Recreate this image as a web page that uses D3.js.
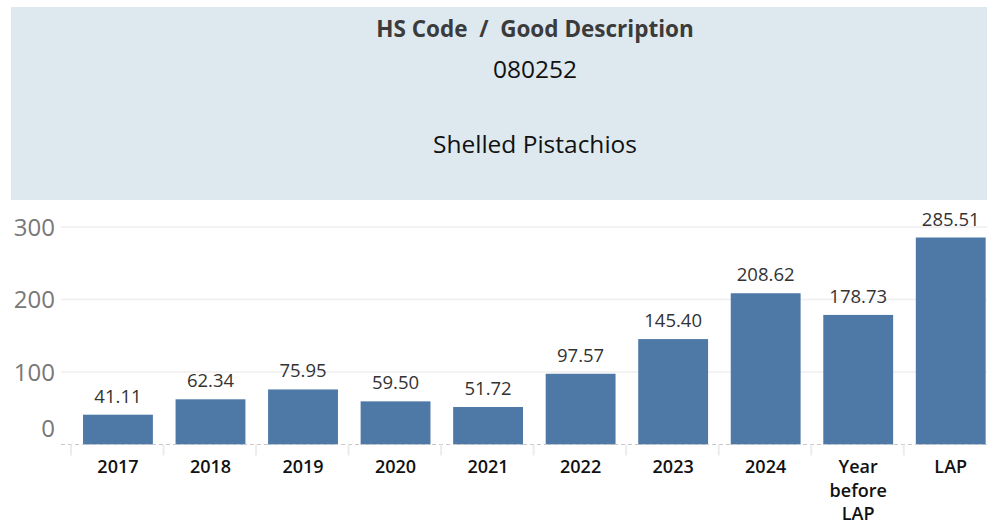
<!DOCTYPE html>
<html>
<head>
<meta charset="utf-8">
<script src="https://cdn.jsdelivr.net/npm/d3@7"></script>
<style>
  body { margin: 0; background: #fff; }
  svg { display: block; }
</style>
</head>
<body>
<div id="chart"></div>
<script>
const categories = ['2017', '2018', '2019', '2020', '2021', '2022', '2023', '2024', 'Year before LAP', 'LAP'];
const values = [41.11, 62.34, 75.95, 59.50, 51.72, 97.57, 145.40, 208.62, 178.73, 285.51];
const yTicks = [0, 100, 200, 300];
const headerTitle = 'HS Code  /  Good Description';
const hsCode = '080252';
const goodDescription = 'Shelled Pistachios';

const W = 987, H = 522;
const svg = d3.select('#chart').append('svg')
  .attr('width', W)
  .attr('height', H);

// header panel
svg.append('rect')
  .attr('x', 11).attr('y', 7)
  .attr('width', W - 11).attr('height', 193)
  .attr('fill', '#dde9ef');

const cx = 535;
svg.append('text')
  .attr('x', cx).attr('y', 37)
  .attr('text-anchor', 'middle')
  .style('font-family', '"Open Sans", sans-serif')
  .style('font-weight', 'bold')
  .style('font-size', '22.5px')
  .style('fill', '#3b3b3b')
  .style('white-space', 'pre')
  .text(headerTitle);

svg.append('text')
  .attr('x', cx).attr('y', 78)
  .attr('text-anchor', 'middle')
  .style('font-family', '"Open Sans", sans-serif')
  .style('font-size', '24.5px')
  .style('fill', '#111')
  .text(hsCode);

svg.append('text')
  .attr('x', cx).attr('y', 153)
  .attr('text-anchor', 'middle')
  .style('font-family', '"Open Sans", sans-serif')
  .style('font-size', '24.5px')
  .style('fill', '#111')
  .text(goodDescription);

// scales
const step = 92.67;
const x = d3.scaleBand()
  .domain(categories)
  .range([71, 71 + step * categories.length])
  .paddingInner(0.245)
  .paddingOuter(0.13);

const y = d3.scaleLinear()
  .domain([0, 300])
  .range([444.5, 227]);

// gridlines
svg.append('g')
  .selectAll('line')
  .data(yTicks.filter(d => d > 0))
  .enter()
  .append('line')
    .attr('x1', 61).attr('x2', W)
    .attr('y1', d => y(d)).attr('y2', d => y(d))
    .attr('stroke', '#efefef')
    .attr('stroke-width', 1.5);

// y axis labels
const yAxis = d3.axisLeft(y).tickValues(yTicks).tickSize(0).tickPadding(0);
const yg = svg.append('g')
  .attr('transform', 'translate(55,0)')
  .call(yAxis);
yg.select('.domain').remove();
yg.selectAll('text')
  .style('font-family', '"Open Sans", sans-serif')
  .style('font-size', '24px')
  .style('fill', '#787878')
  .attr('dy', d => d === 0 ? '-0.32em' : '0.35em');

// bars
svg.selectAll('rect.bar')
  .data(values)
  .enter()
  .append('rect')
    .attr('class', 'bar')
    .attr('x', (d, i) => x(categories[i]))
    .attr('y', d => y(d))
    .attr('width', x.bandwidth())
    .attr('height', d => y(0) - y(d))
    .attr('fill', '#4e79a7');

// value labels
svg.selectAll('text.val')
  .data(values)
  .enter()
  .append('text')
    .attr('class', 'val')
    .attr('x', (d, i) => x(categories[i]) + x.bandwidth() / 2)
    .attr('y', d => y(d) - 12)
    .attr('text-anchor', 'middle')
    .style('font-family', '"Open Sans", sans-serif')
    .style('font-size', '18.5px')
    .style('fill', '#333')
    .text(d => d.toFixed(2));

// baseline (dashed) and separators
svg.append('line')
  .attr('x1', 61).attr('x2', W)
  .attr('y1', y(0)).attr('y2', y(0))
  .attr('stroke', '#c8c8c8')
  .attr('stroke-dasharray', '4,3');

svg.append('g')
  .selectAll('line')
  .data(categories)
  .enter()
  .append('line')
    .attr('x1', d => x(d) - x.step() * x.paddingOuter())
    .attr('x2', d => x(d) - x.step() * x.paddingOuter())
    .attr('y1', y(0)).attr('y2', y(0) + 11)
    .attr('stroke', '#ececec')
    .attr('stroke-width', 2);

// x labels
const xl = svg.append('g')
  .selectAll('text')
  .data(categories)
  .enter()
  .append('text')
    .attr('x', d => x(d) + x.bandwidth() / 2)
    .attr('y', 473)
    .attr('text-anchor', 'middle')
    .style('font-family', '"Open Sans", sans-serif')
    .style('font-weight', '600')
    .style('font-size', '18px')
    .style('fill', '#111');

xl.each(function(d) {
  const words = d === 'Year before LAP' ? ['Year', 'before', 'LAP'] : [d];
  d3.select(this).selectAll('tspan')
    .data(words)
    .enter()
    .append('tspan')
      .attr('x', x(d) + x.bandwidth() / 2)
      .attr('dy', (w, i) => i === 0 ? 0 : 23.5)
      .text(w => w);
});
</script>
</body>
</html>
